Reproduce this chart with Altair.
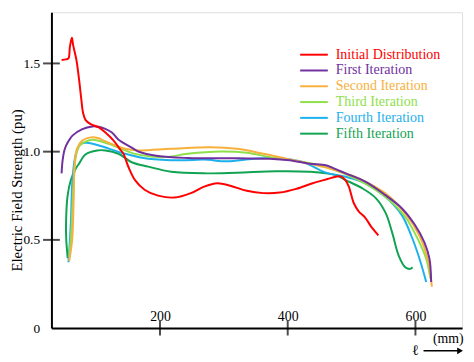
import altair as alt
import pandas as pd

series_names = ["Initial Distribution", "First Iteration", "Second Iteration",
                "Third Iteration", "Fourth Iteration", "Fifth Iteration"]
series_colors = ["#ff0000", "#7030a0", "#f8b03c", "#8edf4c", "#1cb0ec", "#10a352"]

x_ticks = [200, 400, 600]
y_ticks = [0, 0.5, 1.0, 1.5]

initial_x = [45.9, 52.7, 56.7, 58.9, 62.0, 64.0, 69.1, 73.3, 76.8, 79.5, 83.6, 91.4, 104.2, 114.5,
             127.4, 137.7, 142.8, 150.6, 160.9, 176.4, 196.9, 222.7, 248.4, 269.1, 289.7, 310.2,
             336.0, 361.8, 387.5, 413.3, 439.0, 462.3, 475.1, 483.0, 490.0, 495.7, 503.4, 511.1,
             521.5, 531.8, 542.0]
initial_y = [1.520, 1.523, 1.529, 1.594, 1.645, 1.604, 1.520, 1.408, 1.296, 1.221, 1.179, 1.156,
             1.137, 1.109, 1.063, 1.012, 0.988, 0.913, 0.839, 0.783, 0.751, 0.740, 0.765, 0.802,
             0.821, 0.807, 0.778, 0.765, 0.768, 0.789, 0.821, 0.845, 0.858, 0.860, 0.840, 0.802,
             0.709, 0.662, 0.625, 0.569, 0.526]

first_x = [45.9, 47.5, 50.9, 56.3, 62.9, 78.4, 93.8, 104.2, 113.5, 124.7, 135.1, 155.2, 166.0,
           196.9, 243.3, 320.6, 372.0, 402.9, 433.9, 459.7, 475.1, 490.6, 521.5, 552.4, 578.2,
           598.8, 614.2, 622.0, 624.6]
first_y = [0.877, 0.951, 1.015, 1.057, 1.091, 1.128, 1.143, 1.141, 1.130, 1.109, 1.068, 1.024,
           1.001, 0.975, 0.964, 0.962, 0.960, 0.951, 0.932, 0.923, 0.901, 0.877, 0.830, 0.755,
           0.681, 0.587, 0.485, 0.392, 0.261]

second_x = [57.8, 62.5, 64.8, 66.3, 70.2, 78.4, 91.4, 104.2, 109.3, 145.5, 166.0, 217.5, 279.3,
            320.6, 361.8, 397.8, 433.8, 475.1, 511.1, 552.4, 583.3, 606.5, 619.3, 625.8]
second_y = [0.380, 0.503, 0.727, 0.923, 1.018, 1.063, 1.081, 1.076, 1.067, 1.016, 1.007, 1.016,
            1.025, 1.016, 0.988, 0.960, 0.932, 0.895, 0.849, 0.765, 0.653, 0.522, 0.392, 0.235]

third_x = [57.8, 60.9, 62.9, 65.5, 68.6, 73.3, 81.0, 93.8, 119.6, 145.5, 166.0, 207.3, 243.3,
           294.8, 336.0, 372.0, 423.7, 459.7, 511.1, 552.4, 583.3, 603.9, 616.9, 623.5]
third_y = [0.403, 0.531, 0.690, 0.867, 0.979, 1.029, 1.052, 1.067, 1.044, 1.007, 0.983, 0.969,
           0.988, 1.001, 0.994, 0.969, 0.941, 0.913, 0.839, 0.746, 0.634, 0.503, 0.392, 0.280]

fourth_x = [56.7, 60.4, 62.9, 68.2, 75.9, 85.6, 104.2, 145.5, 181.5, 232.9, 269.1, 305.1, 346.4,
            382.4, 423.7, 459.7, 490.6, 521.5, 552.4, 578.2, 593.7, 606.5, 616.9]
fourth_y = [0.373, 0.597, 0.839, 0.988, 1.044, 1.051, 1.035, 0.988, 0.960, 0.951, 0.955, 0.945,
            0.960, 0.964, 0.941, 0.881, 0.858, 0.821, 0.746, 0.643, 0.522, 0.392, 0.261]

fifth_x = [55.5, 53.2, 52.9, 55.2, 60.4, 68.2, 73.3, 83.6, 101.6, 114.5, 135.1, 155.7, 181.5,
           217.5, 269.1, 320.6, 382.4, 433.8, 475.1, 490.6, 516.4, 537.9, 553.3, 563.6, 573.9,
           584.2, 592.0, 595.5]
fifth_y = [0.397, 0.503, 0.599, 0.746, 0.839, 0.905, 0.932, 0.985, 1.007, 1.007, 0.988, 0.940,
           0.915, 0.886, 0.877, 0.881, 0.889, 0.886, 0.867, 0.839, 0.793, 0.737, 0.653, 0.541,
           0.410, 0.345, 0.336, 0.345]

series_data = [
    ("Fifth Iteration", fifth_x, fifth_y),
    ("Fourth Iteration", fourth_x, fourth_y),
    ("Third Iteration", third_x, third_y),
    ("Second Iteration", second_x, second_y),
    ("First Iteration", first_x, first_y),
    ("Initial Distribution", initial_x, initial_y),
]
rows = []
for name, xs, ys in series_data:
    for i, (xv, yv) in enumerate(zip(xs, ys)):
        rows.append({"series": name, "x": xv, "y": yv, "i": i})
df = pd.DataFrame(rows)

FONT = "Liberation Serif"
x_scale = alt.Scale(domain=[30, 673], nice=False, zero=False)
y_scale = alt.Scale(domain=[0, 1.79], nice=False, zero=False)

x_axis = alt.Axis(values=x_ticks, title=None, grid=False, ticks=False, tickSize=0,
                  labelPadding=-19, labelFont=FONT, labelFontSize=14, labelColor="black",
                  domainColor="black", domainWidth=2, labelFlush=False)
y_axis = alt.Axis(values=y_ticks, grid=False, ticks=False, tickSize=0, labelPadding=12,
                  labelExpr="datum.value == 0 ? '0' : format(datum.value, '.1f')",
                  labelFont=FONT, labelFontSize=13.5, labelColor="black",
                  domainColor="black", domainWidth=2,
                  title="Electric Field Strength (pu)", titleFont=FONT, titleFontSize=15,
                  titleFontWeight="normal", titleColor="black", titleAngle=270,
                  titleX=-27.2, titleY=180, titleBaseline="bottom", titleAlign="center")

color_expr = " : ".join(
    f"datum.label == '{n}' ? '{c}'" for n, c in zip(series_names, series_colors)
) + " : 'black'"

lines = alt.Chart(df).mark_line(strokeWidth=2, interpolate="catmull-rom").encode(
    x=alt.X("x:Q", scale=x_scale, axis=x_axis),
    y=alt.Y("y:Q", scale=y_scale, axis=y_axis),
    color=alt.Color("series:N", scale=alt.Scale(domain=series_names, range=series_colors),
                    legend=alt.Legend(title=None, orient="none", legendX=258, legendY=35,
                                      symbolType="M-2,0H2", symbolSize=196,
                                      symbolStrokeWidth=2, labelFont=FONT, labelFontSize=14.2,
                                      labelOffset=14, rowPadding=0, padding=0,
                                      labelColor={"expr": color_expr})),
    order="i:Q",
)

xt = alt.Chart(pd.DataFrame({"x": x_ticks})).mark_tick(
    orient="vertical", size=15, thickness=2, color="black").encode(
    x=alt.X("x:Q", scale=x_scale, axis=x_axis), y=alt.datum(0))

yt = alt.Chart(pd.DataFrame({"y": y_ticks[1:]})).mark_tick(
    orient="horizontal", size=17, thickness=2, color="black").encode(
    y=alt.Y("y:Q", scale=y_scale, axis=y_axis), x=alt.datum(30))

mm = alt.Chart(pd.DataFrame({"t": ["(mm)"]})).mark_text(
    font=FONT, fontSize=14, color="black").encode(
    x=alt.value(402), y=alt.value(331), text="t:N")
ell = alt.Chart(pd.DataFrame({"t": ["ℓ"]})).mark_text(
    font=FONT, fontSize=15, color="black").encode(
    x=alt.value(369), y=alt.value(342), text="t:N")
arrow = alt.Chart(pd.DataFrame({"t": [0]})).mark_rule(color="black", strokeWidth=1.5).encode(
    x=alt.value(377), x2=alt.value(412), y=alt.value(343))
head = alt.Chart(pd.DataFrame({"t": [0]})).mark_point(
    shape="triangle-right", filled=True, size=45, color="black", opacity=1).encode(
    x=alt.value(414), y=alt.value(343))

chart = alt.layer(lines, xt, yt, mm, ell, arrow, head).properties(
    width=416, height=320,
    autosize=alt.AutoSizeParams(type="none"),
    padding={"left": 44, "top": 2, "right": 4, "bottom": 30},
).configure_view(stroke="black", strokeWidth=1.5).configure(font=FONT)

chart.save("out.html", embed_options={"renderer": "svg", "actions": False})
